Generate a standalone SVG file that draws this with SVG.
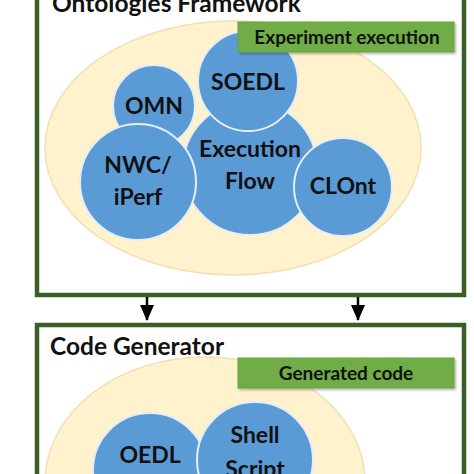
<svg xmlns="http://www.w3.org/2000/svg" width="474" height="474" viewBox="0 0 474 474">
<defs>
<filter id="sh" x="-10%" y="-10%" width="130%" height="140%"><feDropShadow dx="1.5" dy="1.5" stdDeviation="1" flood-color="#000" flood-opacity="0.3"/></filter>
<marker id="ah" viewBox="0 0 16 14" refX="15" refY="7" markerWidth="16" markerHeight="14" markerUnits="userSpaceOnUse" orient="auto"><path d="M0,0 L16,7 L0,14 z" fill="#000"/></marker>
</defs>
<style>
.frame{fill:#fff;stroke:#3b5e27;stroke-width:4.5}
.ell{fill:#fff2cc;stroke:#efe0b5;stroke-width:1.5}
.c{fill:#5b9bd5;stroke:#e6edf5;stroke-width:2}
.lbl{fill:#70ad47;stroke:#6aa143;stroke-width:1;filter:url(#sh)}
.t{font-family:Lato,"Open Sans",sans-serif;font-weight:bold;fill:#111;text-anchor:middle}
.tc{font-size:23px}
.tl{font-size:19px}
.title{font-family:Lato,"Open Sans",sans-serif;font-weight:bold;font-size:24.5px;fill:#111}
.conn{stroke:#000;stroke-width:2.5;fill:none}
</style>
<rect width="474" height="474" fill="#fff"/>
<g id="ontologies-framework">
<rect class="frame" x="37" y="-20" width="427" height="315"/>
<text class="title" x="52" y="12">Ontologies Framework</text>
<ellipse class="ell" cx="233" cy="148" rx="188" ry="127"/>
</g>
<g id="execution-flow"><circle class="c" cx="250" cy="168" r="67"/><text class="t tc" x="250" y="157">Execution</text><text class="t tc" x="250" y="189">Flow</text></g>
<g id="omn"><circle class="c" cx="154" cy="106" r="41"/><text class="t tc" x="154" y="114">OMN</text></g>
<g id="soedl"><circle class="c" cx="248" cy="81" r="50"/><text class="t tc" x="248" y="90">SOEDL</text></g>
<g id="nwc-iperf"><circle class="c" cx="138" cy="182" r="58"/><text class="t tc" x="138" y="173">NWC/</text><text class="t tc" x="138" y="205">iPerf</text></g>
<g id="clont"><circle class="c" cx="343" cy="187" r="49"/><text class="t tc" x="343" y="194">CLOnt</text></g>
<g id="experiment-execution">
<rect class="lbl" x="238" y="22" width="216" height="30"/>
<text class="t tl" x="347" y="44">Experiment execution</text>
</g>
<g id="connectors">
<line class="conn" x1="147" y1="297" x2="147" y2="320" marker-end="url(#ah)"/>
<line class="conn" x1="358" y1="297" x2="358" y2="320" marker-end="url(#ah)"/>
</g>
<g id="code-generator">
<rect class="frame" x="37" y="325" width="427" height="170"/>
<text class="title" x="50" y="355">Code Generator</text>
<ellipse class="ell" cx="205" cy="482" rx="160" ry="125"/>
</g>
<g id="oedl"><circle class="c" cx="150" cy="470" r="57"/><text class="t tc" x="150" y="463">OEDL</text></g>
<g id="shell-script"><circle class="c" cx="255" cy="460" r="58"/><text class="t tc" x="255" y="443">Shell</text><text class="t tc" x="255" y="477">Script</text></g>
<g id="generated-code">
<rect class="lbl" x="238" y="358" width="216" height="30"/>
<text class="t tl" x="346" y="380">Generated code</text>
</g>
</svg>
